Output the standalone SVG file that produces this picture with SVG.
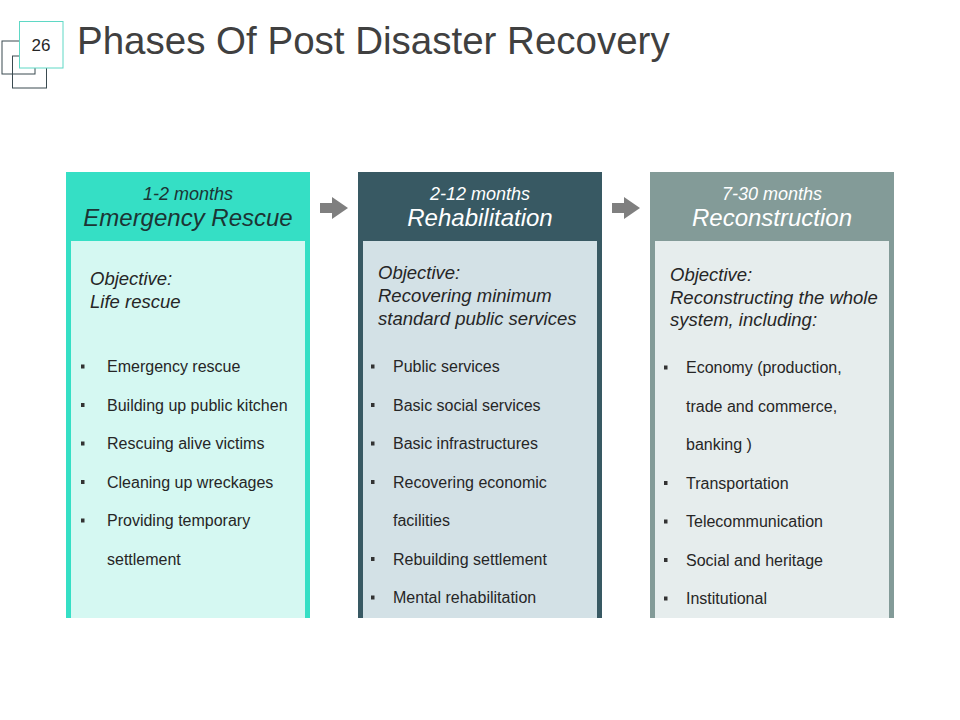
<svg xmlns="http://www.w3.org/2000/svg" width="960" height="720" viewBox="0 0 960 720">
<style>
text{font-family:"Liberation Sans",Arial,sans-serif}
.title{font-size:38.5px;fill:#404040}
.num{font-size:17px;fill:#262626}
.sub{font-size:18px;font-style:italic;text-anchor:middle}
.head{font-size:24px;font-style:italic;text-anchor:middle}
.obj{font-size:18.5px;font-style:italic;fill:#262626}
.item{font-size:16px;fill:#262626}
.dark{fill:#1C3434}
.light{fill:#ffffff}
.bul{fill:#333333}
.arrow{fill:#7F7F7F}
</style>
<rect width="960" height="720" fill="#ffffff"/>
<g id="page-number">
<rect x="2" y="41" width="33" height="33" fill="none" stroke="#3A4A50" stroke-width="1"/>
<rect x="12.5" y="56" width="34" height="32" fill="none" stroke="#3A4A50" stroke-width="1"/>
<rect x="19.5" y="21.5" width="43.5" height="46.5" fill="#ffffff" stroke="#5FD8C5" stroke-width="1"/>
<text class="num" x="41" y="50.5" text-anchor="middle">26</text>
</g>
<text class="title" x="77" y="54">Phases Of Post Disaster Recovery</text>

<g id="card-emergency">
<rect x="66" y="172" width="244" height="446" fill="#35DFC5"/>
<rect x="71" y="241" width="234" height="377" fill="#D5F8F2"/>
<text class="sub dark" x="188" y="200">1-2 months</text>
<text class="head dark" x="188" y="226">Emergency Rescue</text>
<text class="obj" x="90" y="285">Objective:</text>
<text class="obj" x="90" y="307.5">Life rescue</text>
<g class="bul">
<rect x="81" y="364.5" width="3.5" height="4"/>
<rect x="81" y="403" width="3.5" height="4"/>
<rect x="81" y="441.5" width="3.5" height="4"/>
<rect x="81" y="480" width="3.5" height="4"/>
<rect x="81" y="518.5" width="3.5" height="4"/>
</g>
<text class="item" x="107" y="372">Emergency rescue</text>
<text class="item" x="107" y="410.5">Building up public kitchen</text>
<text class="item" x="107" y="449">Rescuing alive victims</text>
<text class="item" x="107" y="487.5">Cleaning up wreckages</text>
<text class="item" x="107" y="526">Providing temporary</text>
<text class="item" x="107" y="564.5">settlement</text>
</g>

<g id="card-rehabilitation">
<rect x="358" y="172" width="244" height="446" fill="#385963"/>
<rect x="363" y="241" width="234" height="377" fill="#D3E1E6"/>
<text class="sub light" x="480" y="200">2-12 months</text>
<text class="head light" x="480" y="226">Rehabilitation</text>
<text class="obj" x="378" y="279">Objective:</text>
<text class="obj" x="378" y="302">Recovering minimum</text>
<text class="obj" x="378" y="324.5">standard public services</text>
<g class="bul">
<rect x="371" y="364.5" width="3.5" height="4"/>
<rect x="371" y="403" width="3.5" height="4"/>
<rect x="371" y="441.5" width="3.5" height="4"/>
<rect x="371" y="480" width="3.5" height="4"/>
<rect x="371" y="557" width="3.5" height="4"/>
<rect x="371" y="595.5" width="3.5" height="4"/>
</g>
<text class="item" x="393" y="372">Public services</text>
<text class="item" x="393" y="410.5">Basic social services</text>
<text class="item" x="393" y="449">Basic infrastructures</text>
<text class="item" x="393" y="487.5">Recovering economic</text>
<text class="item" x="393" y="526">facilities</text>
<text class="item" x="393" y="564.5">Rebuilding settlement</text>
<text class="item" x="393" y="603">Mental rehabilitation</text>
</g>

<g id="card-reconstruction">
<rect x="650" y="172" width="244" height="446" fill="#839B98"/>
<rect x="655" y="241" width="234" height="377" fill="#E6EDED"/>
<text class="sub light" x="772" y="200">7-30 months</text>
<text class="head light" x="772" y="226">Reconstruction</text>
<text class="obj" x="670" y="281">Objective:</text>
<text class="obj" x="670" y="303.5">Reconstructing the whole</text>
<text class="obj" x="670" y="326">system, including:</text>
<g class="bul">
<rect x="664" y="365.5" width="3.5" height="4"/>
<rect x="664" y="481" width="3.5" height="4"/>
<rect x="664" y="519.5" width="3.5" height="4"/>
<rect x="664" y="558" width="3.5" height="4"/>
<rect x="664" y="596.5" width="3.5" height="4"/>
</g>
<text class="item" x="686" y="373">Economy (production,</text>
<text class="item" x="686" y="411.5">trade and commerce,</text>
<text class="item" x="686" y="450">banking )</text>
<text class="item" x="686" y="488.5">Transportation</text>
<text class="item" x="686" y="527">Telecommunication</text>
<text class="item" x="686" y="565.5">Social and heritage</text>
<text class="item" x="686" y="604">Institutional</text>
</g>

<g id="connectors">
<polygon class="arrow" points="320,203 332,203 332,197 348,208 332,219 332,213 320,213"/>
<polygon class="arrow" points="612,203 624,203 624,197 640,208 624,219 624,213 612,213"/>
</g>
</svg>
